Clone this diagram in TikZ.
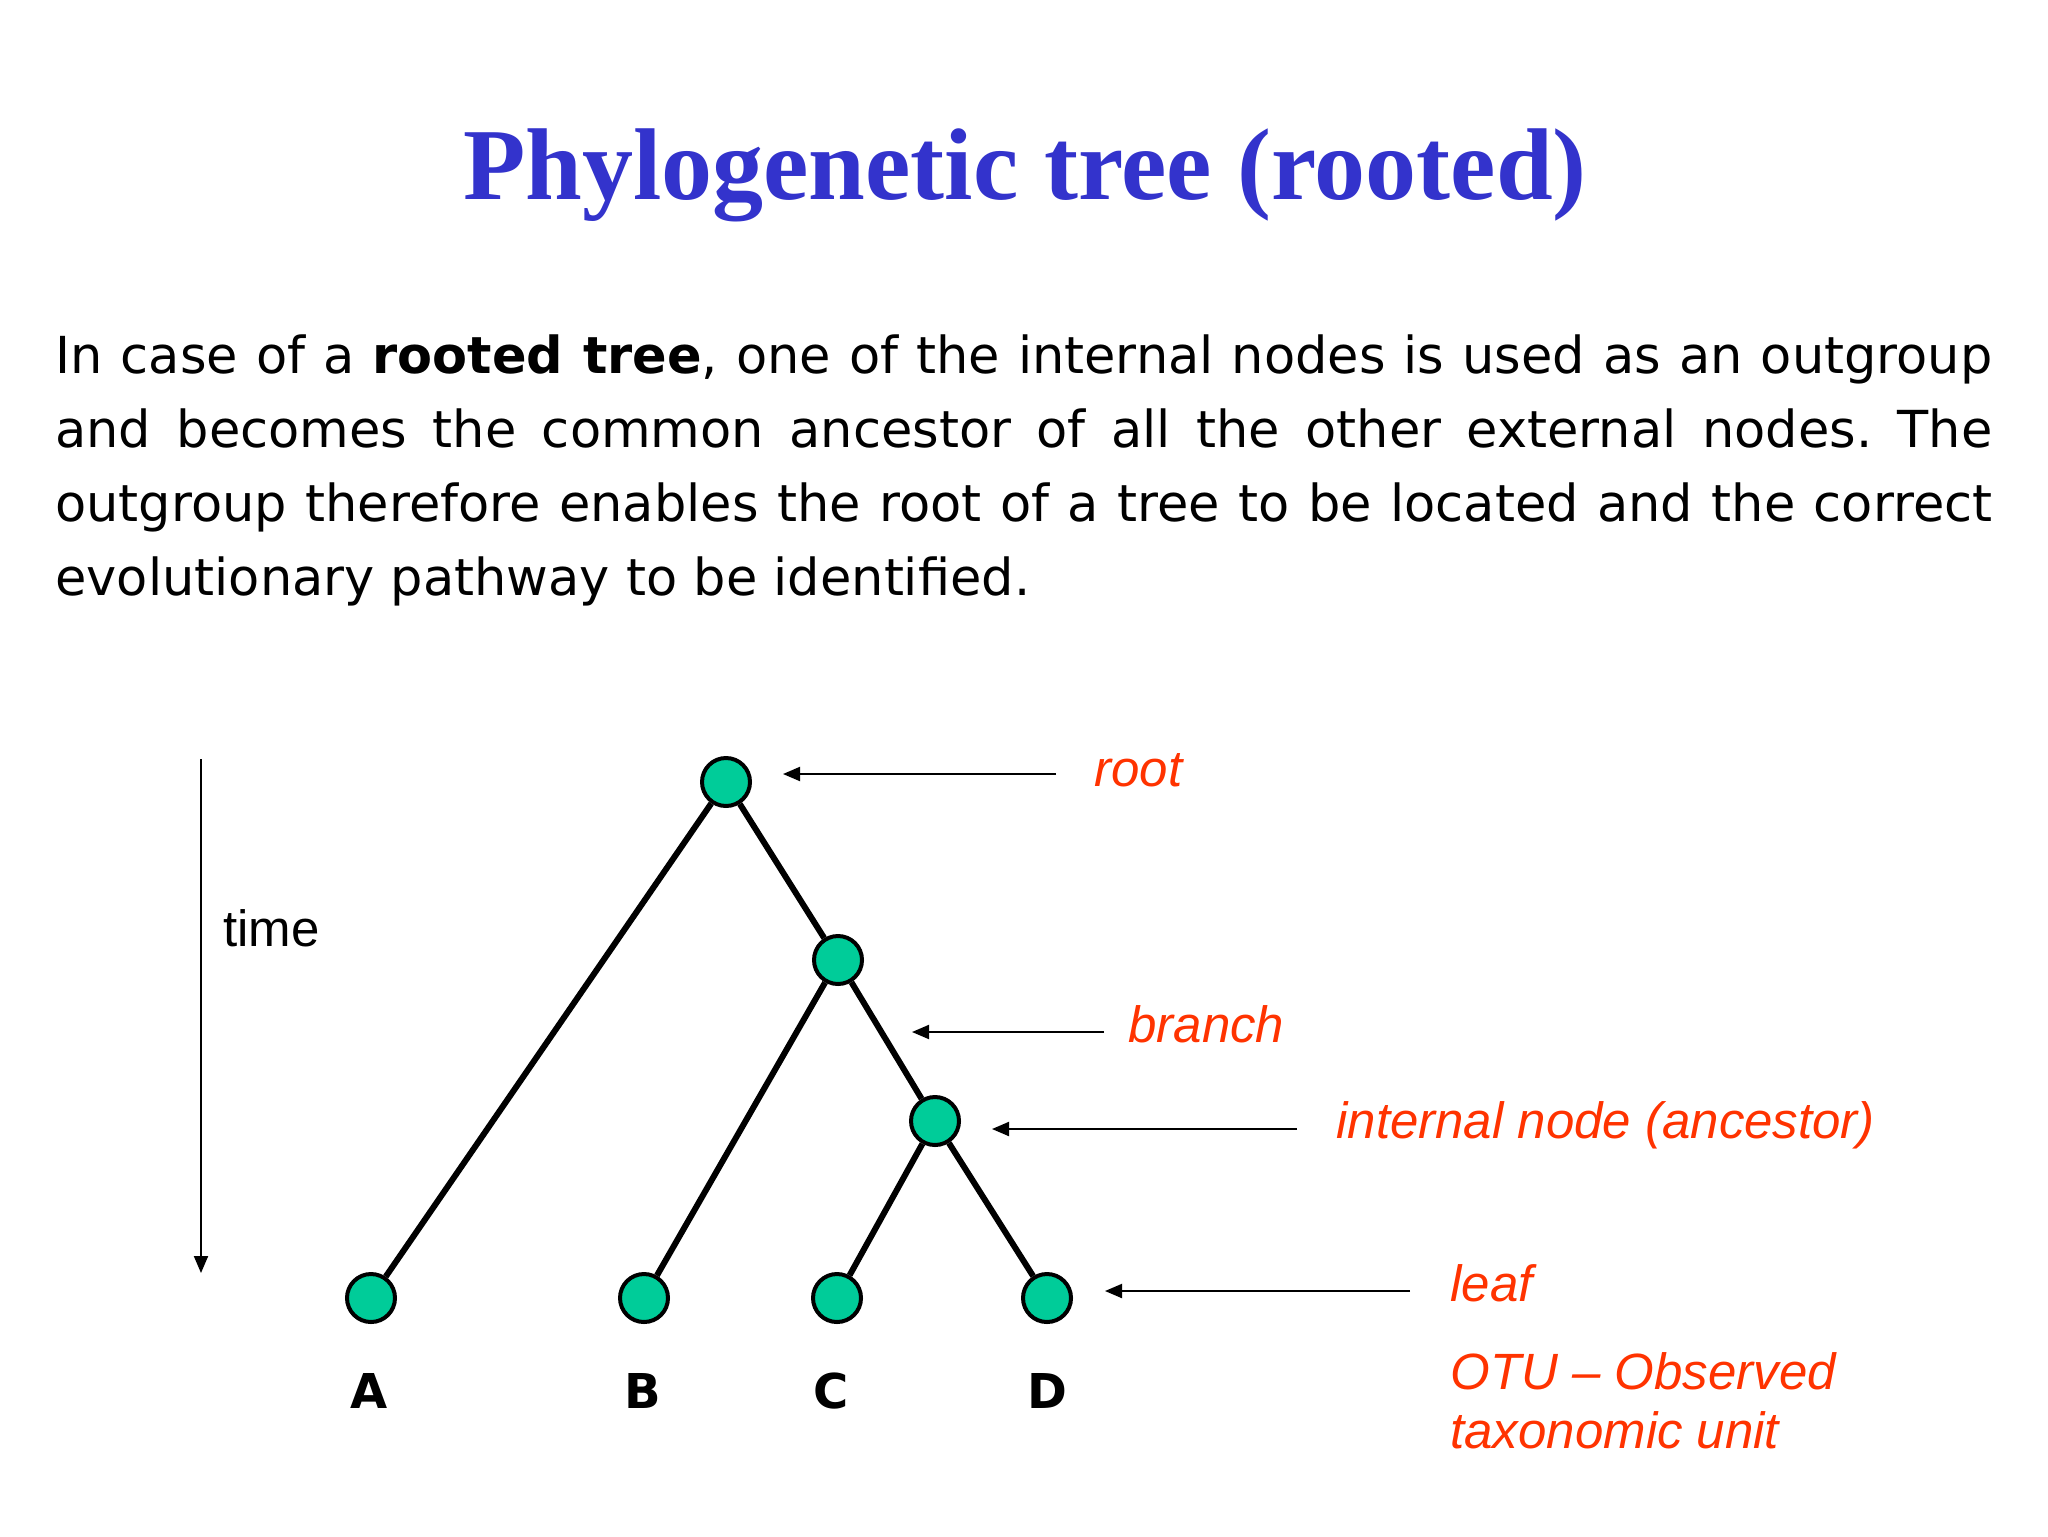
\documentclass[tikz,border=0pt]{standalone}
\usepackage{fontspec}
\setmainfont{Liberation Serif}
\newfontfamily\verd{DejaVu Sans}
\newfontfamily\arial{Liberation Sans}
\usetikzlibrary{arrows.meta,backgrounds}
\definecolor{titleblue}{HTML}{3333CC}
\definecolor{nodegreen}{HTML}{00CC99}
\definecolor{labelred}{HTML}{FF3300}
\frenchspacing
\tikzset{
 tnode/.style={circle, draw=black, line width=2pt, fill=nodegreen, minimum size=24pt, inner sep=0pt},
 edge/.style={line width=3pt},
 ann/.style={line width=1pt, -{Triangle[length=8.5pt,width=7pt]}},
 lab/.style={anchor=base west, inner sep=0pt, text=labelred, font=\arial\itshape\fontsize{25.5}{30}\selectfont},
 leaflab/.style={anchor=base, inner sep=0pt, font=\verd\bfseries\fontsize{24}{28}\selectfont},
 body/.style={anchor=base west, inner sep=0pt, font=\verd\fontsize{25.5}{30}\selectfont},
}
\begin{document}
\begin{tikzpicture}[x=0.5pt,y=-0.5pt]
\useasboundingbox (0,0) rectangle (2048,1536);
\node[anchor=base, inner sep=0pt, text=titleblue, font=\bfseries\fontsize{51}{60}\selectfont] (title) at (1025,199) {Phylogenetic tree (rooted)};

\node[body] (l1) at (55,373) {\makebox[968.5pt][s]{In case of a \textbf{rooted tree}, one of the internal nodes is used as an outgroup}};
\node[body] (l2) at (55,447) {\makebox[968.5pt][s]{and becomes the common ancestor of all the other external nodes. The}};
\node[body] (l3) at (55,521) {\makebox[968.5pt][s]{outgroup therefore enables the root of a tree to be located and the correct}};
\node[body] (l4) at (55,595) {evolutionary pathway to be identified.};

% tree
\node[tnode] (root) at (726,782) {};
\node[tnode] (n1) at (838,960) {};
\node[tnode] (n2) at (935,1121) {};
\node[tnode] (A) at (371,1298) {};
\node[tnode] (B) at (644,1298) {};
\node[tnode] (C) at (837,1298) {};
\node[tnode] (D) at (1047,1298) {};
\begin{scope}[on background layer]
\fill[white] (0,0) rectangle (2048,1536);
\draw[edge] (root) -- (A);
\draw[edge] (root) -- (n1);
\draw[edge] (n1) -- (B);
\draw[edge] (n1) -- (n2);
\draw[edge] (n2) -- (C);
\draw[edge] (n2) -- (D);
\end{scope}

\node[leaflab] (Alab) at (369,1408) {A};
\node[leaflab] (Blab) at (643,1408) {B};
\node[leaflab] (Clab) at (831,1408) {C};
\node[leaflab] (Dlab) at (1047,1408) {D};

% time arrow
\coordinate (t0) at (201,759);
\coordinate (t1) at (201,1273);
\draw[ann] (t0) -- (t1);
\node[anchor=base west, inner sep=0pt, font=\arial\fontsize{25.5}{30}\selectfont] (time) at (223,946) {time};

% annotations
\coordinate (rootS) at (1056,774);
\coordinate (rootT) at (783,774);
\draw[ann] (rootS) -- (rootT);
\node[lab] (rootL) at (1094,786) {root};

\coordinate (brS) at (1104,1032);
\coordinate (brT) at (912,1032);
\draw[ann] (brS) -- (brT);
\node[lab] (brL) at (1128,1042) {branch};

\coordinate (inS) at (1297,1129);
\coordinate (inT) at (992,1129);
\draw[ann] (inS) -- (inT);
\node[lab] (inL) at (1336,1138) {internal node (ancestor)};

\coordinate (lfS) at (1410,1291);
\coordinate (lfT) at (1105,1291);
\draw[ann] (lfS) -- (lfT);
\node[lab] (lfL) at (1450,1301) {leaf};

\node[lab] (otu1) at (1450,1389) {OTU – Observed};
\node[lab] (otu2) at (1450,1448) {taxonomic unit};
\end{tikzpicture}
\end{document}
